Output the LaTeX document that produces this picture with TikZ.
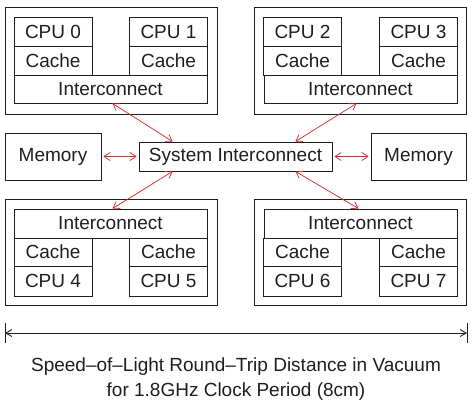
\documentclass[tikz,border=0pt]{standalone}
\usepackage{fontspec}
\setmainfont{Liberation Sans}
\usetikzlibrary{arrows.meta}
\definecolor{ink}{RGB}{30,30,30}
\definecolor{wire}{RGB}{215,45,45}
\newcommand{\boxfont}{\fontsize{19}{25}\selectfont}
\tikzset{
  cell/.style={draw=ink, line width=0.9pt, inner sep=0pt, text=ink, font=\boxfont},
  cpu/.style={cell, minimum width=78pt, minimum height=29pt},
  bus/.style={cell, minimum width=193pt, minimum height=28pt},
  group/.style={draw=ink, line width=0.9pt, minimum width=212pt, minimum height=107pt},
  link/.style={wire, line width=0.75pt, {Straight Barb[length=6pt,width=8pt]}-{Straight Barb[length=6pt,width=8pt]}}
}
\begin{document}
\begin{tikzpicture}[x=1pt, y=-1pt]
                \useasboundingbox (0,0) rectangle (474,405);

                % upper left board
                \node[group] (boardA) at (111,60.5) {};
                \node[cpu] (cpu0) at (53,31.5) {CPU 0};
                \node[cpu] (cacheA) at (53,60.5) {Cache};
                \node[cpu] (cpu1) at (168.5,31.5) {CPU 1};
                \node[cpu] (cacheB) at (168.5,60.5) {Cache};
                \node[bus] (busA) at (110.5,89) {Interconnect};

                % upper right board
                \node[group] (boardB) at (360.5,60.5) {};
                \node[cpu] (cpu2) at (302.5,31.5) {CPU 2};
                \node[cpu] (cacheC) at (302.5,60.5) {Cache};
                \node[cpu] (cpu3) at (418.5,31.5) {CPU 3};
                \node[cpu] (cacheD) at (418.5,60.5) {Cache};
                \node[bus] (busB) at (360.5,89) {Interconnect};

                % middle row
                \node[cell, minimum width=96pt, minimum height=47pt] (memL) at (53,156.5) {Memory};
                \node[cell, minimum width=193pt, minimum height=29pt] (sysbus) at (235.5,156.5) {System Interconnect};
                \node[cell, minimum width=95pt, minimum height=47pt] (memR) at (418.5,156.5) {Memory};

                % lower left board
                \node[group, minimum height=106pt] (boardC) at (111,252) {};
                \node[bus, minimum height=29pt] (busC) at (110.5,223.5) {Interconnect};
                \node[cpu, minimum height=28pt] (cacheE) at (53,252) {Cache};
                \node[cpu, minimum height=30pt] (cpu4) at (53,281) {CPU 4};
                \node[cpu, minimum height=28pt] (cacheF) at (168.5,252) {Cache};
                \node[cpu, minimum height=30pt] (cpu5) at (168.5,281) {CPU 5};

                % lower right board
                \node[group, minimum height=106pt] (boardD) at (360.5,252) {};
                \node[bus, minimum height=29pt] (busD) at (360.5,223.5) {Interconnect};
                \node[cpu, minimum height=28pt] (cacheG) at (302.5,252) {Cache};
                \node[cpu, minimum height=30pt] (cpu6) at (302.5,281) {CPU 6};
                \node[cpu, minimum height=28pt] (cacheH) at (418.5,252) {Cache};
                \node[cpu, minimum height=30pt] (cpu7) at (418.5,281) {CPU 7};

                \draw[link] ([xshift=2pt]busA.south) -- ([xshift=34pt]sysbus.north west);
                \draw[link] ([xshift=-4pt]busB.south) -- ([xshift=-37pt]sysbus.north east);
                \draw[link] ([xshift=2pt]busC.north) -- ([xshift=34pt]sysbus.south west);
                \draw[link] ([xshift=-2pt]busD.north) -- ([xshift=-37pt]sysbus.south east);
                \draw[link, shorten <=2pt, shorten >=2pt] (memL) -- (sysbus);
                \draw[link, shorten <=2pt, shorten >=2pt] (sysbus) -- (memR);

                % distance ruler
                \coordinate (rulerL) at (5,333);
                \coordinate (rulerR) at (467,333);
                \draw[ink, line width=0.9pt] ([yshift=-10pt]rulerL) -- ([yshift=10pt]rulerL);
                \draw[ink, line width=0.9pt] ([yshift=-10pt]rulerR) -- ([yshift=10pt]rulerR);
                \draw[ink, line width=0.9pt, {Straight Barb[length=6pt,width=7pt]}-{Straight Barb[length=6pt,width=7pt]}] (rulerL) -- (rulerR);
                \node[text=ink, font=\boxfont, align=center] (caption) at (236,379.5)
                  {Speed--of--Light Round--Trip Distance in Vacuum\\for 1.8GHz Clock Period (8cm)};
            \end{tikzpicture}
\end{document}
